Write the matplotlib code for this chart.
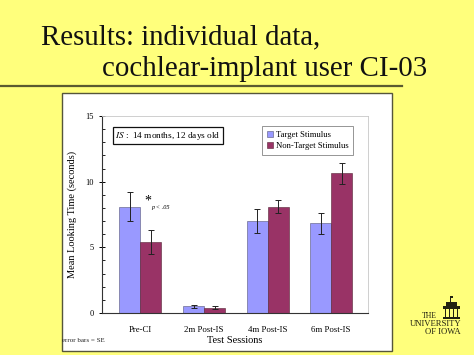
import matplotlib
matplotlib.use("Agg")
import matplotlib.pyplot as plt
from matplotlib.patches import Rectangle, Polygon
import numpy as np

categories = ["Pre-CI", "2m Post-IS", "4m Post-IS", "6m Post-IS"]
target = [8.1, 0.5, 7.0, 6.85]
target_se = [1.1, 0.1, 0.9, 0.8]
nontarget = [5.4, 0.4, 8.1, 10.65]
nontarget_se = [0.9, 0.1, 0.5, 0.8]
series_names = ["Target Stimulus", "Non-Target Stimulus"]
yticks = [0, 5, 10, 15]

serif = ["Liberation Serif", "DejaVu Serif"]
plt.rcParams["font.family"] = serif
plt.rcParams["mathtext.fontset"] = "stix"

W, H = 474, 355
fig = plt.figure(figsize=(W / 100, H / 100), dpi=100)
fig.patch.set_facecolor("#ffff7c")

def fx(px):
    return px / W

def fy(py):
    return 1 - py / H

# title
fig.text(fx(41), fy(44), "Results: individual data,", fontsize=20.8, color="#111111",
         ha="left", va="baseline")
fig.text(fx(102), fy(76), "cochlear-implant user CI-03", fontsize=20.8, color="#111111",
         ha="left", va="baseline")
fig.add_artist(plt.Line2D([fx(0), fx(402)], [fy(86), fy(86)], color="#5a5a30",
                          lw=1.6, transform=fig.transFigure))

# white chart panel
fig.add_artist(Rectangle((fx(62), fy(351)), (392 - 62) / W, (351 - 93) / H,
                         facecolor="white", edgecolor="#55553a", lw=1.0,
                         transform=fig.transFigure, zorder=0))

ax = fig.add_axes([fx(101.7), fy(313), (368 - 101.7) / W, (313 - 116) / H])
ax.set_facecolor("white")
x = np.arange(len(categories))
bw = 0.33
ax.bar(x - bw / 2, target, bw, color="#9999ff", edgecolor="#555577", lw=0.4,
       yerr=target_se, error_kw=dict(ecolor="#222222", elinewidth=0.7, capsize=2, capthick=0.7),
       label=series_names[0], zorder=2)
ax.bar(x + bw / 2, nontarget, bw, color="#993366", edgecolor="#552233", lw=0.4,
       yerr=nontarget_se, error_kw=dict(ecolor="#222222", elinewidth=0.7, capsize=2, capthick=0.7),
       label=series_names[1], zorder=2)

ax.set_xlim(-0.61, 3.58)
ax.set_ylim(0, 15)
ax.set_yticks(yticks)
ax.set_yticks(np.arange(0, 16, 1), minor=True)
ax.set_xticks(x)
ax.set_xticklabels(categories, fontsize=6.3)
ax.tick_params(axis="x", length=0, pad=9)
ax.tick_params(axis="y", which="major", direction="inout", length=5, width=0.7, labelsize=6, pad=3)
ax.tick_params(axis="y", which="minor", direction="in", length=2.5, width=0.6)
for s in ["left", "bottom"]:
    ax.spines[s].set_color("#333333")
    ax.spines[s].set_linewidth(0.8)
for s in ["top", "right"]:
    ax.spines[s].set_color("#c8c8c8")
    ax.spines[s].set_linewidth(0.6)

ax.set_ylabel("Mean Looking Time (seconds)", fontsize=7.5, labelpad=6)
ax.set_xlabel("Test Sessions", fontsize=7.5, labelpad=2)

leg = ax.legend(loc="upper right", bbox_to_anchor=(0.96, 0.97), fontsize=6.2,
                frameon=True, fancybox=False, handlelength=0.7, handleheight=0.7,
                handletextpad=0.4, borderpad=0.5, labelspacing=0.45)
leg.get_frame().set_edgecolor("#666666")
leg.get_frame().set_linewidth(0.6)

ax.text(0.05, 0.90, r"$\mathit{IS}$ :  14 months, 12 days old", transform=ax.transAxes,
        fontsize=6.7, ha="left", va="center",
        bbox=dict(boxstyle="square,pad=0.25", facecolor="white", edgecolor="#111111", lw=0.9))
ax.text(0.12, 8.55, "*", fontsize=10, ha="center", va="center")
ax.text(0.31, 8.0, "p < .05", fontsize=4.5, style="italic", ha="center", va="center")

fig.text(fx(62), fy(341), "error bars = SE", fontsize=5, ha="left", va="center", color="#222222")

# University of Iowa logo
logo_c = "#222211"
fig.text(fx(437), fy(316), "THE", fontsize=5.6, ha="right", va="center", color=logo_c)
fig.text(fx(461), fy(324), "UNIVERSITY", fontsize=6.2, ha="right", va="center", color=logo_c)
fig.text(fx(461), fy(332.5), "OF IOWA", fontsize=6.2, ha="right", va="center", color=logo_c)
# simple building icon
def rect(px, py, w, h):
    fig.add_artist(Rectangle((fx(px), fy(py + h)), w / W, h / H, facecolor=logo_c,
                             edgecolor="none", transform=fig.transFigure))
rect(443, 317, 17, 2)
for cx in [444.5, 448.5, 452.5, 456.5]:
    rect(cx, 309, 1.8, 8)
rect(443, 306, 17, 3)
rect(446, 302, 11, 4)
rect(449.5, 296, 1, 6)
rect(450.5, 296, 2, 1.5)

fig.savefig("out.png", dpi=100, facecolor=fig.get_facecolor())
